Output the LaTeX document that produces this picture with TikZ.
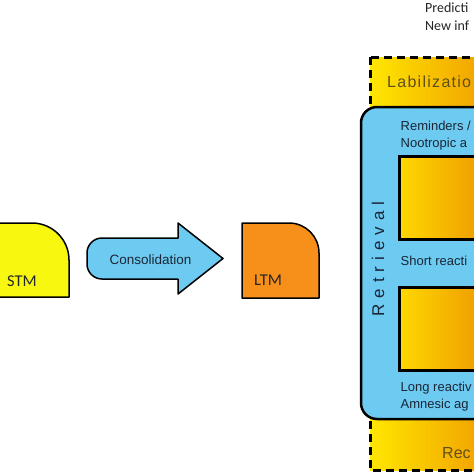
\documentclass[tikz,border=0pt]{standalone}
\usepackage{fontspec}
\setmainfont{Liberation Sans}
\newfontfamily\calfont{Carlito}
\definecolor{stmyellow}{HTML}{F7F710}
\definecolor{ltmorange}{HTML}{F7901A}
\definecolor{skyblue}{HTML}{6DCBF2}
\definecolor{gyel}{HTML}{FFE600}
\definecolor{gorg}{HTML}{F2A400}
\definecolor{iyel}{HTML}{FFD800}
\definecolor{iorg}{HTML}{F0A000}
\definecolor{txtdark}{HTML}{1A2535}
\definecolor{olive}{HTML}{5E5018}
\tikzset{
  shapeline/.style={draw=black, line width=1.5pt, line join=round},
  lbl/.style={inner sep=0pt, anchor=base west, text=txtdark, font=\fontsize{13}{15}\selectfont},
  phase/.style={inner sep=0pt, anchor=base west, text=olive, font=\fontsize{16}{18}\selectfont\addfontfeature{LetterSpace=8}},
  memlbl/.style={inner sep=0pt, anchor=base west, text=black!85, font=\calfont\fontsize{16.5}{18}\selectfont},
  toplbl/.style={inner sep=0pt, anchor=base west, text=black!85, font=\calfont\fontsize{14}{16}\selectfont},
  dashbox/.style={draw=black, line width=3pt, dash pattern=on 8pt off 5pt},
  innerbox/.style={draw=black, line width=3pt}
}
\begin{document}
\begin{tikzpicture}[x=1pt,y=-1pt]
\useasboundingbox (0,0) rectangle (474,474);
\clip (0,0) rectangle (474,474);
\fill[white] (0,0) rectangle (474,474);

% STM
\draw[shapeline, fill=stmyellow] (-5,297) -- (-5,223) -- (32,223)
  .. controls (52.4,223) and (69,239.6) .. (69,260) -- (69,297) -- cycle;
\node[memlbl] (stm) at (7,286) {STM};

% Consolidation arrow
\draw[shapeline, fill=skyblue] (130,238) [rounded corners=15pt] -- (87,238) -- (87,279) -- (130,279)
  [sharp corners] -- (178,279) -- (178,294) -- (223,258.5) -- (178,223) -- (178,238) -- cycle;
\node[inner sep=0pt, anchor=base, text=txtdark, font=\fontsize{13.5}{16}\selectfont] (cons) at (150.5,264) {Consolidation};

% LTM
\draw[shapeline, fill=ltmorange] (242,298) -- (242,223) -- (289,223)
  .. controls (305.6,223) and (319,236.4) .. (319,253) -- (319,298) -- cycle;
\node[memlbl] (ltm) at (254,285) {LTM};

% Dashed labilization / reconsolidation frame
\shade[left color=gyel, right color=gorg] (370,57) rectangle (480,470);
\draw[dashbox] (370,57) rectangle (540,470);
\node[phase] (labil) at (387,87) {Labilizatio};
\node[phase, font=\fontsize{16}{18}\selectfont] (recon) at (442,458) {Rec};

% Retrieval box
\draw[fill=skyblue, draw=black, line width=2.5pt, rounded corners=16pt] (361,107) rectangle (540,419);
\node[inner sep=0pt, rotate=90, text=txtdark,
  font=\fontsize{17}{19}\selectfont\addfontfeature{LetterSpace=35}] (retr) at (378,259) {Retrieval};

% inner boxes
\shade[left color=iyel, right color=iorg] (399,156) rectangle (476,239);
\draw[innerbox] (399,156) rectangle (540,239);
\shade[left color=iyel, right color=iorg] (399,287) rectangle (476,370);
\draw[innerbox] (399,287) rectangle (540,370);

% texts inside
\node[lbl] (rem) at (400.5,130) {Reminders /};
\node[lbl] (noo) at (400.5,147) {Nootropic a};
\node[lbl] (shortr) at (400.5,265) {Short reacti};
\node[lbl] (longr) at (400.5,391) {Long reactiv};
\node[lbl] (amn) at (400.5,408) {Amnesic ag};

% top texts
\node[toplbl] (pred) at (425,12.5) {Predicti};
\node[toplbl] (newinf) at (425,30) {New inf};
\end{tikzpicture}
\end{document}
